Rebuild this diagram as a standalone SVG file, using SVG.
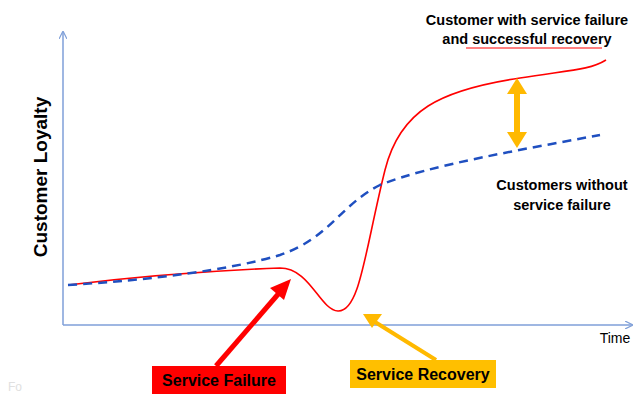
<svg xmlns="http://www.w3.org/2000/svg" width="640" height="410" viewBox="0 0 640 410">
<style>
.t{font-family:"Liberation Sans",Arial,sans-serif;font-weight:bold;fill:#000}
.ax{stroke:#7f9fd8;stroke-width:1.5;fill:none}
</style>
<defs>
<marker id="ah" markerWidth="8" markerHeight="8" refX="7" refY="4" orient="auto" markerUnits="userSpaceOnUse"><path d="M0,0 L8,4 L0,8" fill="none" stroke="#7f9fd8" stroke-width="1.2"/></marker>
</defs>
<rect width="640" height="410" fill="#fff"/>
<g id="axes">
<line class="ax" x1="63" y1="325" x2="63" y2="32" marker-end="url(#ah)"/>
<line class="ax" x1="63" y1="325" x2="632" y2="325" marker-end="url(#ah)"/>
</g>
<g id="curves">
<path d="M68,285 C150,275 230,270 280,268 C310,268 320,310 338,311 C360,312 365,250 385,170 C400,110 440,90 520,78 C570,70 590,70 606,60" fill="none" stroke="#ff0000" stroke-width="1.6"/>
<path d="M68,285 C150,280 230,270 280,255 C330,238 340,205 380,185 C430,165 520,150 600,135" fill="none" stroke="#1f4fc0" stroke-width="2.5" stroke-dasharray="9,6"/>
</g>
<g id="connectors">
<line x1="517" y1="92" x2="517" y2="134" stroke="#ffb900" stroke-width="6"/>
<polygon points="517,78 507,94 527,94" fill="#ffb900"/>
<polygon points="517,148 507,132 527,132" fill="#ffb900"/>
<line x1="216" y1="366" x2="280" y2="292" stroke="#ff0000" stroke-width="5"/>
<polygon points="291,279 270,288 284,300" fill="#ff0000"/>
<line x1="436" y1="360" x2="375" y2="322" stroke="#ffb900" stroke-width="4"/>
<polygon points="363,314 382,314 372,328" fill="#ffb900"/>
<line x1="466" y1="48" x2="602" y2="48" stroke="#ff0000" stroke-width="1"/>
</g>
<g id="labels">
<text class="t" x="527" y="25" font-size="14.5" text-anchor="middle">Customer with service failure</text>
<text class="t" x="527" y="44" font-size="14.5" text-anchor="middle">and successful recovery</text>
<text class="t" x="562" y="190" font-size="14.5" text-anchor="middle">Customers without</text>
<text class="t" x="562" y="210" font-size="14.5" text-anchor="middle">service failure</text>
<text class="t" x="47" y="177" font-size="19" text-anchor="middle" transform="rotate(-90 47 177)">Customer Loyalty</text>
<text x="615" y="343" font-size="14" text-anchor="middle" font-family="Liberation Sans,Arial,sans-serif">Time</text>
<text x="8" y="391" font-size="12" fill="#e0e0e0" font-family="Liberation Sans,Arial,sans-serif">Fo</text>
</g>
<g id="box-failure">
<rect x="152" y="366" width="134" height="28" fill="#ff0000"/>
<text class="t" x="219" y="386" font-size="16" text-anchor="middle">Service Failure</text>
</g>
<g id="box-recovery">
<rect x="350" y="360" width="146" height="28" fill="#ffbf00"/>
<text class="t" x="423" y="380" font-size="16" text-anchor="middle">Service Recovery</text>
</g>
</svg>
